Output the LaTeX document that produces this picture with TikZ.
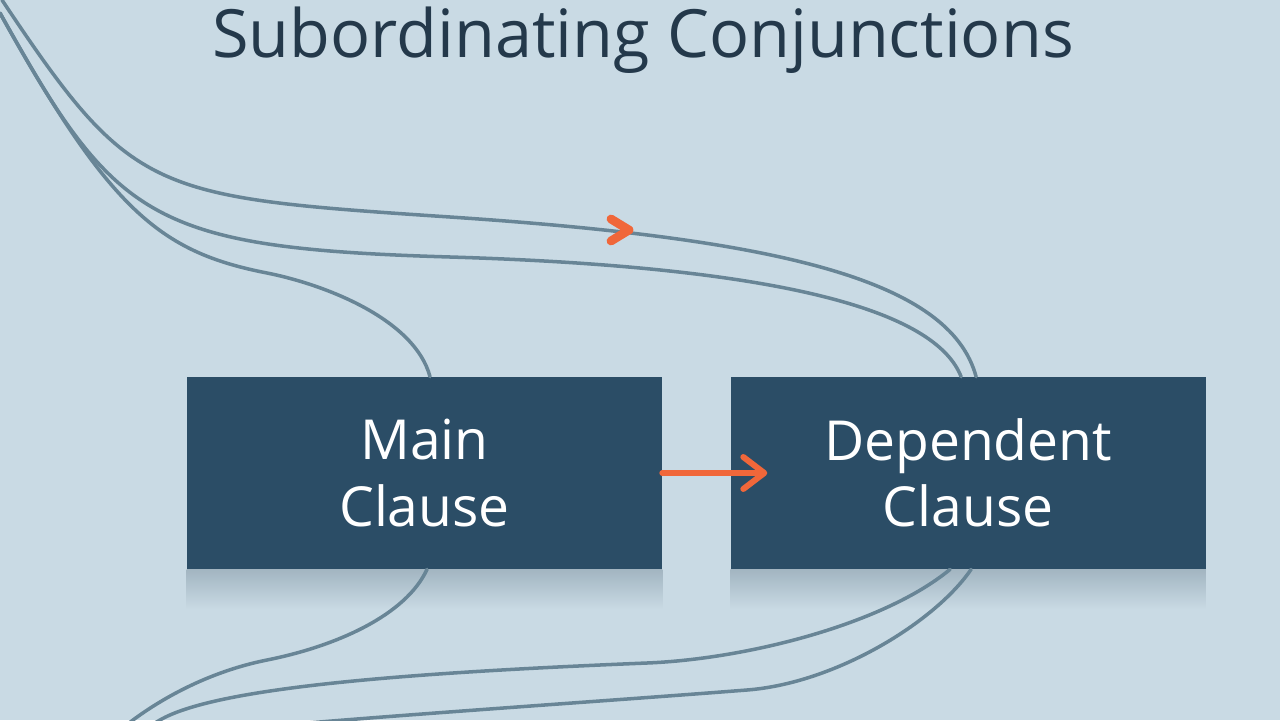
\documentclass[tikz,border=0pt]{standalone}
\usepackage{fontspec}
\setmainfont{Open Sans}
\usetikzlibrary{positioning,arrows.meta}

\definecolor{bgblue}{HTML}{C9DAE4}
\definecolor{boxblue}{HTML}{2B4D66}
\definecolor{wiregrey}{HTML}{688596}
\definecolor{titleink}{HTML}{24394B}
\definecolor{accent}{HTML}{F0673A}
\definecolor{shadowgrey}{HTML}{A2B5C1}

\tikzset{
  clause/.style={fill=boxblue, text=white, minimum width=9.5cm, minimum height=3.84cm,
    align=center, font=\fontsize{31.4}{37.6}\selectfont},
  drop/.style={top color=shadowgrey, bottom color=bgblue, draw=none},
  wire/.style={draw=wiregrey, line width=2pt, line cap=round},
  chev/.style={draw=accent, line width=5pt, line cap=round, line join=round},
  link/.style={draw=accent, line width=3.4pt, line cap=round,
    -{Straight Barb[length=0.42cm, width=0.64cm, line cap=round, line join=round]}},
}

\begin{document}
\begin{tikzpicture}[x=0.02cm, y=-0.02cm]
\useasboundingbox (0,0) rectangle (1280,720);
\clip (0,0) rectangle (1280,720);
\fill[bgblue] (0,0) rectangle (1280,720);

\node[text=titleink, font=\fontsize{37.9}{42}\selectfont, anchor=base] (title) at (643,57) {Subordinating Conjunctions};

\node[clause] (main) at (424.5,473) {Main\\Clause};
\node[clause, right=1.36cm of main] (dep) {Dependent\\Clause};

% soft shadows under the boxes
\shade[drop] (main.south west) rectangle ([yshift=-0.8cm]main.south east);
\shade[drop] (dep.south west) rectangle ([yshift=-0.8cm]dep.south east);

% curves coming in from the top left corner
\coordinate (in1) at (2,0);
\coordinate (in2) at (0,13);
\draw[wire] (in1) .. controls (132,195) and (150,197) .. (450,217)
  .. controls (780,239) and (950,280) .. ([xshift=0.16cm]dep.north);
\draw[wire] (in2) .. controls (115,220) and (150,248) .. (450,257)
  .. controls (780,267) and (935,310) .. ([xshift=-0.14cm]dep.north);
\draw[wire] (in2) .. controls (110,211) and (160,252) .. (267,273)
  .. controls (327,285) and (415,320) .. ([xshift=0.11cm]main.north);

% curves leaving towards the bottom edge
\coordinate (out1) at (113,735);
\coordinate (out2) at (134,735);
\coordinate (out3) at (230,730);
\draw[wire] ([xshift=0.05cm]main.south) .. controls (406,615) and (337,646) .. (267,660)
  .. controls (207,672) and (160,700) .. (133,720) -- (out1);
\draw[wire] ([xshift=-0.36cm]dep.south) .. controls (884,624) and (747,659) .. (647,663)
  .. controls (400,673) and (215,688) .. (160,720) -- (out2);
\draw[wire] ([xshift=0.06cm]dep.south) .. controls (936,621) and (837,683) .. (747,690)
  .. controls (600,701.5) and (380,716) .. (250,728) -- (out3);

% orange marks
\coordinate (tip) at (629,230);
\draw[chev] ([shift={(-18,-11)}]tip) -- (tip) -- ([shift={(-18,11)}]tip);
\draw[link] (main.east) -- ([xshift=0.74cm]dep.west);
\end{tikzpicture}
\end{document}
